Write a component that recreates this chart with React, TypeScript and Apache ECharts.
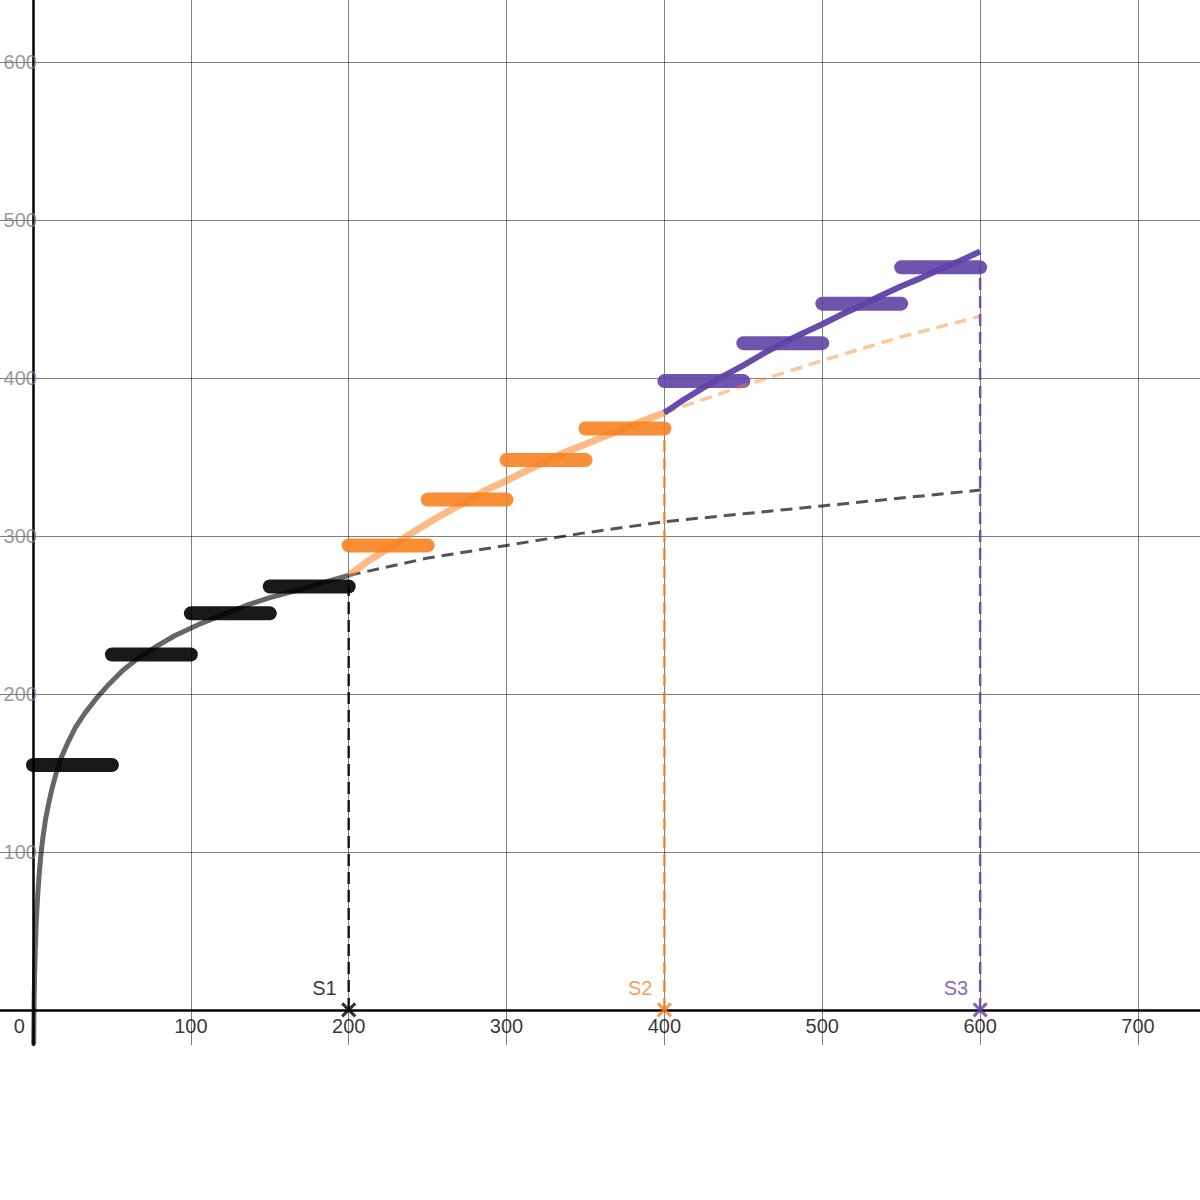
import { useEffect, useRef } from "react";
import * as echarts from "echarts";

// visible window of the graph, in data units
const X_MIN = -20.9;
const X_MAX = 739.3;
const Y_MIN = -22.2;
const Y_MAX = 639.2;

const xTicks = [100, 200, 300, 400, 500, 600, 700];
const yTicks = [100, 200, 300, 400, 500, 600];

// black curve
const baseCurve: [number, number][] = [
  [0.45, -22], [0.55, -8], [0.7, 4], [0.85, 13], [1, 21], [1.25, 31],
  [1.5, 40], [2, 54], [2.5, 64], [3, 73], [4, 87], [5, 98], [6, 107],
  [8, 121], [10, 131], [12, 140], [15, 151], [18, 160], [22, 169], [27, 179],
  [33, 188], [40, 197], [48, 206], [57, 215], [67, 223], [78, 230],
  [90, 237], [105, 244], [120, 250], [135, 256], [150, 261], [165, 265],
  [182, 270], [200, 275],
];
const baseDashed: [number, number][] = [
  [200, 275], [250, 286], [300, 294], [350, 302], [400, 309], [450, 314],
  [500, 319], [550, 324], [600, 329],
];
const orangeCurve: [number, number][] = [
  [200, 275], [212, 284], [225, 292], [237, 300], [250, 308], [262, 315],
  [275, 322], [287, 329], [300, 335], [312, 341], [325, 347], [337, 353],
  [350, 358], [362, 363], [375, 368], [387, 373], [400, 378],
];
const orangeDashed: [number, number][] = [
  [400, 378], [450, 395], [500, 411], [550, 426], [600, 439],
];
const purpleCurve: [number, number][] = [
  [400, 378], [412, 386], [425, 394], [437, 401], [450, 408], [462, 415],
  [475, 422], [487, 428], [500, 434], [512, 440], [525, 446], [537, 452],
  [550, 458], [562, 463], [575, 469], [587, 474], [600, 480],
];

const stepEdges = [0, 50, 100, 150, 200, 250, 300, 350, 400, 450, 500, 550, 600];
const blackSteps = [155, 225, 251, 268];
const orangeSteps = [294, 323, 348, 368];
const purpleSteps = [398, 422, 447, 470];

const sampleX = [200, 400, 600];
const sampleLabels = ["S1", "S2", "S3"];
const dropTops = [268, 368, 470];

const BLACK = "#000000";
const ORANGE = "#f7821f";
const PURPLE = "#6042a6";
const SAMPLE_COLORS = [BLACK, ORANGE, PURPLE];
const FONT = "Arial, 'Liberation Sans', sans-serif";

function stepSeries(values: number[], offset: number, color: string) {
  return values.map((v, i) => ({
    type: "line",
    silent: true,
    symbol: "none",
    z: 3,
    data: [
      [stepEdges[offset + i], v],
      [stepEdges[offset + i + 1], v],
    ],
    lineStyle: { color, width: 14, cap: "round", opacity: 0.9 },
  }));
}

function curve(data: [number, number][], lineStyle: Record<string, unknown>, z = 4) {
  return {
    type: "line",
    silent: true,
    symbol: "none",
    z,
    data,
    lineStyle: { join: "round", ...lineStyle },
  };
}

function tickLabels(
  points: [number, number][],
  position: string,
  distance: number,
  color: string,
) {
  return {
    type: "scatter",
    silent: true,
    symbolSize: 0,
    z: 7,
    itemStyle: { color: "transparent" },
    data: points,
    label: {
      show: true,
      formatter: (p: { value: number[] }) => String(p.value[0] || p.value[1]),
      position,
      distance,
      color,
      fontSize: 20,
      fontFamily: FONT,
    },
  };
}

export default function App() {
  const ref = useRef<HTMLDivElement | null>(null);

  useEffect(() => {
    document.body.style.margin = "0";
    const el = ref.current;
    if (!el) return;
    const chart = echarts.init(el, undefined, { renderer: "svg" });

    const drops = sampleX.map((x, i) => ({
      type: "line",
      silent: true,
      symbol: "none",
      z: 5,
      data: [
        [x, 0],
        [x, dropTops[i]],
      ],
      lineStyle: {
        color: SAMPLE_COLORS[i],
        width: 2.5,
        type: [12, 6],
        opacity: 0.85,
      },
    }));

    const split = {
      show: true,
      showMinLine: false,
      showMaxLine: false,
      lineStyle: { color: "rgba(0,0,0,0.5)", width: 1 },
    };

    const option = {
      animation: false,
      backgroundColor: "#ffffff",
      grid: { left: 0, right: 0, top: 0, bottom: 155, outerBoundsMode: "none" },
      xAxis: {
        type: "value",
        min: X_MIN,
        max: X_MAX,
        minInterval: 100,
        maxInterval: 100,
        axisLine: { onZero: true, lineStyle: { color: BLACK, width: 2.5 } },
        axisTick: { show: false },
        axisLabel: { show: false },
        splitLine: split,
      },
      yAxis: {
        type: "value",
        min: Y_MIN,
        max: Y_MAX,
        minInterval: 100,
        maxInterval: 100,
        axisLine: { onZero: true, lineStyle: { color: BLACK, width: 2.5 } },
        axisTick: { show: false },
        axisLabel: { show: false },
        splitLine: split,
      },
      series: [
        ...stepSeries(blackSteps, 0, BLACK),
        ...stepSeries(orangeSteps, 4, ORANGE),
        ...stepSeries(purpleSteps, 8, PURPLE),
        curve(baseCurve, { color: "rgba(0,0,0,0.6)", width: 5 }),
        curve(baseDashed, { color: "rgba(0,0,0,0.67)", width: 3, type: [12, 7] }),
        curve(orangeCurve, { color: "rgba(247,130,35,0.55)", width: 7 }),
        curve(orangeDashed, { color: "rgba(247,130,35,0.45)", width: 3.5, type: [12, 7] }),
        curve(purpleCurve, { color: PURPLE, width: 6, opacity: 0.95 }),
        ...drops,
        tickLabels(xTicks.map((x) => [x, 0] as [number, number]), "bottom", 6, BLACK),
        tickLabels(yTicks.map((y) => [0, y] as [number, number]), "left", -4, "#808080"),
        {
          type: "scatter",
          silent: true,
          z: 6,
          symbol: "path://M0,0L10,10M10,0L0,10",
          symbolSize: 13,
          data: sampleX.map((x, i) => ({
            value: [x, 0],
            itemStyle: {
              color: "none",
              borderColor: SAMPLE_COLORS[i],
              borderWidth: 3,
            },
            label: {
              show: true,
              formatter: sampleLabels[i],
              position: "left",
              distance: 3,
              offset: [0, -22],
              color: SAMPLE_COLORS[i],
              fontSize: 20,
              fontFamily: FONT,
            },
          })),
        },
        {
          type: "scatter",
          silent: true,
          symbolSize: 0,
          itemStyle: { color: "transparent" },
          data: [[0, 0]],
          label: {
            show: true,
            formatter: "0",
            position: "left",
            distance: 8,
            offset: [0, 16],
            color: BLACK,
            fontSize: 20,
            fontFamily: FONT,
          },
        },
      ],
    };

    chart.setOption(option as echarts.EChartsOption);
    return () => chart.dispose();
  }, []);

  return <div ref={ref} style={{ width: 1200, height: 1200 }} />;
}
